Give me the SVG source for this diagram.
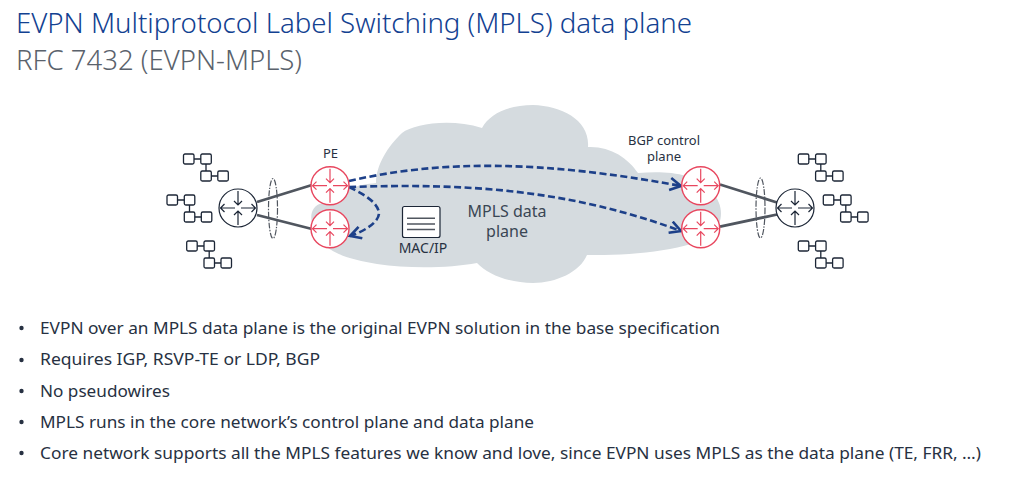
<svg xmlns="http://www.w3.org/2000/svg" width="1020" height="496" viewBox="0 0 1020 496">
<style>
text{font-family:"Noto Sans","Open Sans","Liberation Sans",sans-serif}
.t1{font-size:27px;fill:#124191;font-weight:300}
.t2{font-size:27px;fill:#5a626c;font-weight:300}
.b{font-size:16.5px;fill:#273142}
.l{font-size:13px;fill:#273142;text-anchor:middle}
.m{font-size:16px;fill:#3a4654;text-anchor:middle}
.link{stroke:#50565f;stroke-width:2.8;fill:none}
.ring{stroke:#50565f;stroke-width:1.2;fill:none;stroke-dasharray:6 1.5 1.5 1.5}
.flow{stroke:#1d4089;stroke-width:2.6;fill:none;stroke-dasharray:7 3.5;marker-end:url(#ah)}
.dev rect{fill:#fff;stroke:#1c2636;stroke-width:1.3}
.dev path{stroke:#1c2636;stroke-width:1.3;fill:none}
.dot{fill:#273142}
</style>
<defs>
<marker id="ah" markerUnits="userSpaceOnUse" markerWidth="16" markerHeight="16" refX="12" refY="7" orient="auto"><path d="M1 1 L12 7 L1 13" fill="none" stroke="#1d4089" stroke-width="2.6"/></marker>
<g id="dv" class="dev"><rect x="0" y="0" width="10.5" height="10" rx="1.5"/><rect x="17.3" y="0" width="10.5" height="10" rx="1.5"/><rect x="17.3" y="17" width="10.5" height="10" rx="1.5"/><rect x="34.3" y="17" width="10.5" height="10" rx="1.5"/><path d="M10.5 5H17.3M22.5 10V17M27.8 22H34.3"/></g>
<g id="arrows" fill="none"><path d="M0 -17V-3M-4 -7L0 -3L4 -7M0 17V3M-4 7L0 3L4 7M-3 0H-17.500M-13.500 -4L-17.500 0L-13.500 4M3 0H17.500M13.500 -4L17.500 0L13.500 4"/></g>
</defs>
<text class="t1" x="16" y="33" textLength="676" lengthAdjust="spacingAndGlyphs">EVPN Multiprotocol Label Switching (MPLS) data plane</text>
<text class="t2" x="16" y="70" textLength="286" lengthAdjust="spacingAndGlyphs">RFC 7432 (EVPN-MPLS)</text>
<path id="cloud" fill="#d5dbdf" d="M347 190C358 185 367 184 376 183C376 165 388 146 402 133C414 124 450 118 482 128C490 113 510 105 533 105C562 106 590 120 588 147C610 146 628 158 638 173C665 171 695 172 712 192C724 205 724 222 712 235C690 250 630 256 587 255C580 272 556 283 533 283C510 283 488 275 477 263C450 268 410 269 377 264C345 259 320 250 315 230C308 218 311 206 322 203C332 199 340 193 347 190Z"/>
<g id="connectors">
<path class="link" d="M257 202L312 185M257 215L312 229M720 184.500L777 202.500M720 226.700L777 214.500"/>
<ellipse class="ring" cx="273" cy="208.500" rx="4.500" ry="30"/>
<ellipse class="ring" cx="760.500" cy="208" rx="4.500" ry="30"/>
<path class="flow" d="M349 181C440 160 540 160 681 186"/>
<path class="flow" d="M349 187C470 183 570 190 681 231"/>
<path class="flow" d="M349 187C368 196 378 204 379 213C379 222 365 231 350 236"/>
</g>
<g id="pe1" stroke="#e8475f" fill="#fff"><circle cx="330" cy="185.700" r="19" stroke-width="1.400"/><use href="#arrows" x="330" y="185.700" stroke-width="1.200"/></g>
<g id="pe2" stroke="#e8475f" fill="#fff"><circle cx="330" cy="228.700" r="19" stroke-width="1.400"/><use href="#arrows" x="330" y="228.700" stroke-width="1.200"/></g>
<g id="pe3" stroke="#e8475f" fill="#fff"><circle cx="700.700" cy="185.700" r="19" stroke-width="1.400"/><use href="#arrows" x="700.700" y="185.700" stroke-width="1.200"/></g>
<g id="pe4" stroke="#e8475f" fill="#fff"><circle cx="700.700" cy="228.700" r="19" stroke-width="1.400"/><use href="#arrows" x="700.700" y="228.700" stroke-width="1.200"/></g>
<g id="ce1" stroke="#1c2636" fill="#fff"><circle cx="238" cy="208" r="19" stroke-width="1.200"/><use href="#arrows" x="238" y="208" stroke-width="1.200"/></g>
<g id="ce2" stroke="#1c2636" fill="#fff"><circle cx="795" cy="208" r="19" stroke-width="1.200"/><use href="#arrows" x="795" y="208" stroke-width="1.200"/></g>
<g id="hosts-left"><use href="#dv" x="183.500" y="154"/><use href="#dv" x="167" y="195"/><use href="#dv" x="186.700" y="241"/></g>
<g id="hosts-right"><use href="#dv" x="798.300" y="154"/><use href="#dv" x="823.300" y="195"/><use href="#dv" x="798.300" y="241"/></g>
<g id="macip"><rect x="402.500" y="206.500" width="37.500" height="31" rx="2" fill="#fff" stroke="#1c2636" stroke-width="1.200"/><path d="M407 218.300H435M407 224H435M407 229.500H435" stroke="#50565f" stroke-width="1.500"/><text class="l" x="423" y="253" style="font-size:14px">MAC/IP</text></g>
<text class="l" x="330.500" y="157.500">PE</text>
<g id="bgp-label"><text class="l" x="664" y="145" textLength="72" lengthAdjust="spacingAndGlyphs">BGP control</text><text class="l" x="664" y="161">plane</text></g>
<g id="mpls-label"><text class="m" x="507" y="217">MPLS data</text><text class="m" x="507" y="237">plane</text></g>
<g id="bullets">
<circle class="dot" cx="21.500" cy="328" r="2.200"/><text class="b" x="40" y="334" textLength="680" lengthAdjust="spacingAndGlyphs">EVPN over an MPLS data plane is the original EVPN solution in the base specification</text>
<circle class="dot" cx="21.500" cy="360" r="2.200"/><text class="b" x="40" y="365" textLength="280" lengthAdjust="spacingAndGlyphs">Requires IGP, RSVP-TE or LDP, BGP</text>
<circle class="dot" cx="21.500" cy="391" r="2.200"/><text class="b" x="40" y="397" textLength="130" lengthAdjust="spacingAndGlyphs">No pseudowires</text>
<circle class="dot" cx="21.500" cy="422" r="2.200"/><text class="b" x="40" y="428" textLength="494" lengthAdjust="spacingAndGlyphs">MPLS runs in the core network’s control plane and data plane</text>
<circle class="dot" cx="21.500" cy="453" r="2.200"/><text class="b" x="40" y="459" textLength="941" lengthAdjust="spacingAndGlyphs">Core network supports all the MPLS features we know and love, since EVPN uses MPLS as the data plane (TE, FRR, …)</text>
</g>
</svg>
